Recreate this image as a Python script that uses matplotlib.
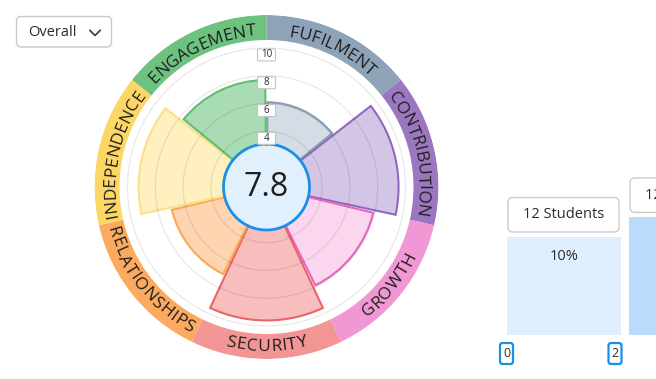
"""
Wellbeing rose chart with the overall score in the middle,
plus the start of the student distribution strip on the right.
"""

import numpy as np
import matplotlib.pyplot as plt
from matplotlib.patches import FancyBboxPatch
from matplotlib.lines import Line2D
from matplotlib.transforms import IdentityTransform
from matplotlib.font_manager import FontProperties

plt.rcParams['font.family'] = ['Open Sans', 'DejaVu Sans']

# Data
categories = ["FUFILMENT", "CONTRIBUTION", "GROWTH", "SECURITY",
              "RELATIONSHIPS", "INDEPENDENCE", "ENGAGEMENT"]
scores = [6.1, 9.5, 7.9, 9.6, 7.0, 9.2, 7.7]
overall_score = 7.8
radial_ticks = [4, 6, 8, 10]

band_pct = [10, 12]
band_students = [12, 12]
band_edges = ["0", "2"]
filter_label = "Overall"

# Styles
ring_colors = ['#8ea2b8', '#9b77c0', '#f198d4', '#f49595', '#fcaa5f', '#fdd765', '#6cc27e']
fill_colors = ['#d4dde5', '#d3c5e5', '#fad7ee', '#f8bdbd', '#fed5b0', '#fff0bf', '#a9dcb4']
edge_colors = ['#8a9eb3', '#9168bf', '#ec63c4', '#e86467', '#f8a857', '#fce083', '#5fbd75']
band_colors = ['#e0effd', '#b9dcfb']
blue = '#1a8fe8'
text_dark = '#2b2b2b'

W, H = 656, 379
fig = plt.figure(figsize=(W / 100, H / 100), dpi=100)
px = IdentityTransform()


def fig_box(left, top, width, height):
    return [left / W, (H - top - height) / H, width / W, height / H]


def round_box(x0, y0, w, h, ec, fc='white', lw=1.0, rad=5):
    # x0, y0 in display pixels (origin bottom-left)
    p = FancyBboxPatch((x0, y0), w, h, boxstyle=f"round,pad=0,rounding_size={rad}",
                       transform=px, ec=ec, fc=fc, lw=lw, zorder=10)
    fig.add_artist(p)
    return p


# ---- rose chart ----
cx, cy = 266.5, 187.0
px_per_unit = 13.9
r_px = 172
ax = fig.add_axes(fig_box(cx - r_px, cy - r_px, 2 * r_px, 2 * r_px), projection='polar')
ax.set_theta_zero_location('N')
ax.set_theta_direction(-1)
r_max = r_px / px_per_unit
ax.set_ylim(0, r_max)
ax.set_axis_off()

n = len(categories)
step = 2 * np.pi / n
theta = (np.arange(n) + 0.5) * step

ring_in = 147 / px_per_unit
ax.bar(theta, r_max - ring_in, width=step, bottom=ring_in,
       color=ring_colors, edgecolor='none', zorder=1)

ax.bar(theta, scores, width=step - 0.025, bottom=0,
       color=fill_colors, edgecolor=edge_colors, linewidth=1.5, zorder=2)

th = np.linspace(0, 2 * np.pi, 500)
for v in [2] + radial_ticks:
    ax.plot(th, np.full_like(th, v), color='black', alpha=0.09, lw=0.9, zorder=3)

r_hole = 43 / px_per_unit
ax.fill(th, np.full_like(th, r_hole), color='#e1f0fd', zorder=4)
ax.plot(th, np.full_like(th, r_hole), color=blue, lw=2, zorder=5)
ax.text(0, 0, f"{overall_score}", ha='center', va='center',
        fontsize=23, color='#1e1e1e', zorder=6)

# radial tick boxes along the top
for v in radial_ticks:
    bx, by = ax.transData.transform((0, v - 0.5))
    round_box(bx - 9, by - 6, 18, 12, ec='#c4c4c4', lw=0.8, rad=1)
    fig.text(bx / W, by / H, str(v), ha='center', va='center',
             fontsize=7, color=text_dark, zorder=11)

# curved labels in the outer ring
label_size = 12.5
label_font = FontProperties(family='Open Sans', size=label_size)
renderer = fig.canvas.get_renderer()
r_text_px = 158
spacing = 0.3
cap = 0.714 * label_size * 100 / 72
for i, label in enumerate(categories):
    widths = [renderer.get_text_width_height_descent(ch, label_font, ismath=False)[0]
              for ch in label]
    total = sum(widths) + spacing * (len(label) - 1)
    deg_c = np.degrees(theta[i])
    top_half = deg_c < 90 or deg_c > 270
    pos = -total / 2
    for ch, w in zip(label, widths):
        s = pos + w / 2
        pos += w + spacing
        if top_half:
            t = theta[i] + s / r_text_px
            rot = -np.degrees(t)
            rb = (r_text_px - cap / 2) / px_per_unit
        else:
            t = theta[i] - s / r_text_px
            rot = 180 - np.degrees(t)
            rb = (r_text_px + cap / 2) / px_per_unit
        ax.text(t, rb, ch, rotation=rot, rotation_mode='anchor',
                ha='center', va='baseline', fontproperties=label_font,
                color='#1f1f1f', zorder=7)

# ---- filter dropdown ----
round_box(16.5, H - 47, 95, 30.5, ec='#c8c8c8', lw=1, rad=5)
fig.text(28 / W, 1 - 32 / H, filter_label, ha='left', va='center',
         fontsize=10.5, color=text_dark, zorder=11)
fig.add_artist(Line2D([90, 95, 100], [H - 30.5, H - 35.5, H - 30.5],
                      transform=px, color='#444444', lw=1.3, zorder=11))

# ---- student distribution strip ----
pitch = 122
hax = fig.add_axes(fig_box(480, 135, 300, 200))
x0 = -23 / pitch
hax.set_xlim(x0, x0 + 300 / pitch)
hax.set_ylim(0, 200 / 9.8)
hax.set_axis_off()

bw = 114 / pitch
xs = np.arange(len(band_pct)) + 0.5
hax.bar(xs, band_pct, width=bw, color=band_colors, zorder=1)

for x, p, cnt in zip(xs, band_pct, band_students):
    hax.annotate(f"{p}%", (x, p), xytext=(0, -19), textcoords='offset pixels',
                 ha='center', va='center', fontsize=10.5, color=text_dark)
    lx, ty = hax.transData.transform((x - bw / 2, p))
    round_box(lx + 1, ty + 5, 111, 34.5, ec='#cccccc', lw=1, rad=5)
    fig.text((lx + 56.5) / W, (ty + 22) / H, f"{cnt} Students", ha='center',
             va='center', fontsize=10.5, color=text_dark, zorder=11)

left_px, base_py = hax.transData.transform((xs[0] - bw / 2, 0))
right_px, _ = hax.transData.transform((xs[0] + bw / 2, 0))
for lab, ex in zip(band_edges, [left_px - 0.5, right_px - 6]):
    round_box(ex - 6.5, base_py - 29, 13, 21, ec=blue, lw=1.6, rad=2.5)
    fig.text(ex / W, (base_py - 18.5) / H, lab, ha='center', va='center',
             fontsize=9, color=text_dark, zorder=11)

fig.savefig("out.png", dpi=100)
